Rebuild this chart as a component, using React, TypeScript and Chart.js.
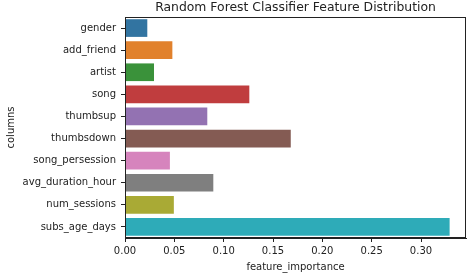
import React, { useEffect, useRef } from "react";
import { Chart, registerables } from "chart.js";

Chart.register(...registerables);

const categories = [
  "gender",
  "add_friend",
  "artist",
  "song",
  "thumbsup",
  "thumbsdown",
  "song_persession",
  "avg_duration_hour",
  "num_sessions",
  "subs_age_days",
];
const importance = [0.0226, 0.048, 0.0294, 0.126, 0.0834, 0.168, 0.0455, 0.0895, 0.0495, 0.329];
const barColors = [
  "#3274a1",
  "#e1812c",
  "#3a923a",
  "#c03d3e",
  "#9372b2",
  "#845b53",
  "#d684bd",
  "#7f7f7f",
  "#a9aa35",
  "#2eabb8",
];
const xTicks = [0, 0.05, 0.1, 0.15, 0.2, 0.25, 0.3];
const titleText = "Random Forest Classifier Feature Distribution";
const xTitle = "feature_importance";
const yTitle = "columns";

const FONT = "'DejaVu Sans', sans-serif";
const INK = "#222";

export default function App() {
  const ref = useRef<HTMLCanvasElement | null>(null);
  useEffect(() => {
    document.body.style.margin = "0";
    const frame = {
      id: "frame",
      afterDraw(chart: any) {
        const { ctx, chartArea: a } = chart;
        ctx.save();
        ctx.strokeStyle = INK;
        ctx.lineWidth = 1;
        ctx.strokeRect(Math.round(a.left) + 0.5, Math.round(a.top) + 0.5, Math.round(a.right - a.left) - 1, Math.round(a.bottom - a.top) - 1);
        ctx.fillStyle = INK;
        ctx.font = `12.4px ${FONT}`;
        ctx.textAlign = "center";
        ctx.textBaseline = "bottom";
        ctx.fillText(titleText, (a.left + a.right) / 2, a.top - 3);
        ctx.restore();
      },
    };
    const chart = new Chart(ref.current!, {
      type: "bar",
      data: {
        labels: categories,
        datasets: [
          {
            data: importance,
            backgroundColor: barColors,
            borderWidth: 0,
            categoryPercentage: 0.8,
            barPercentage: 1,
          },
        ],
      },
      plugins: [frame],
      options: {
        indexAxis: "y",
        animation: false,
        responsive: false,
        layout: { padding: { top: 17, right: 8, left: 5, bottom: 4 } },
        plugins: { legend: { display: false }, tooltip: { enabled: false }, title: { display: false } },
        scales: {
          x: {
            type: "linear",
            min: 0,
            max: 0.3456,
            afterBuildTicks: (s: any) => {
              s.ticks = xTicks.map((v) => ({ value: v }));
            },
            afterFit: (s: any) => {
              s.height = 35;
            },
            grid: { display: true, drawOnChartArea: false, drawTicks: true, tickLength: 4, color: INK },
            border: { display: true, color: INK },
            ticks: {
              color: INK,
              font: { family: FONT, size: 10 },
              padding: 3,
              maxRotation: 0,
              callback: (v: any) => Number(v).toFixed(2),
            },
            title: { display: true, text: xTitle, color: INK, font: { family: FONT, size: 10 }, padding: { top: 1, bottom: 0 } },
          },
          y: {
            afterFit: (s: any) => {
              s.width = 120;
            },
            grid: { display: true, drawOnChartArea: false, drawTicks: true, tickLength: 4, color: INK, offset: false },
            border: { display: true, color: INK },
            ticks: { color: INK, font: { family: FONT, size: 10 }, padding: 5 },
            title: { display: true, text: yTitle, color: INK, font: { family: FONT, size: 10 }, padding: { top: 0, bottom: 0 } },
          },
        },
      },
    });
    return () => chart.destroy();
  }, []);
  return (
    <div style={{ width: 474, height: 277, background: "#fff" }}>
      <canvas ref={ref} width={474} height={277} style={{ display: "block" }} />
    </div>
  );
}
